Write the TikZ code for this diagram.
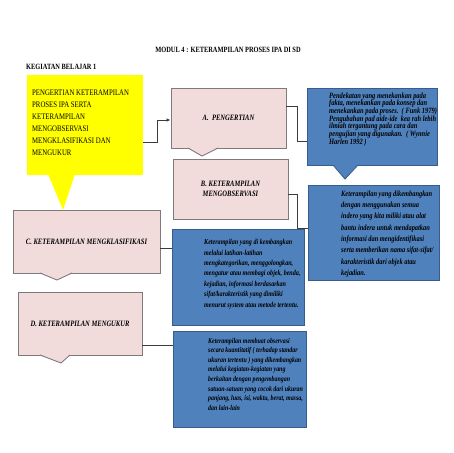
\documentclass[tikz,border=0pt]{standalone}
\usepackage{fontspec}
\setmainfont{Liberation Serif}[FakeStretch=0.8]
\usetikzlibrary{arrows.meta,calc}
\definecolor{pinkfill}{RGB}{242,220,219}
\definecolor{pinkline}{RGB}{127,120,124}
\definecolor{bluefill}{RGB}{79,129,189}
\definecolor{blueline}{RGB}{56,93,138}
\definecolor{connline}{RGB}{60,60,60}
\definecolor{yellowfill}{RGB}{255,255,0}
\begin{document}
\begin{tikzpicture}[x=1pt,y=-1pt,
  pinkbox/.style={draw=pinkline, fill=pinkfill, line width=0.9pt, inner sep=0pt,
    font=\fontsize{8.2}{9.3}\selectfont\bfseries\itshape, align=center},
  bluebox/.style={draw=blueline, fill=bluefill, line width=0.9pt, inner sep=0pt},
  bluetext/.style={anchor=north west, inner sep=0pt, align=left, text=black},
  conn/.style={draw=connline, line width=0.8pt},
]
\useasboundingbox (0,0) rectangle (453,453);

% title texts
\node[font=\fontsize{8}{9}\selectfont\bfseries] (title) at (228,50) {MODUL 4 : KETERAMPILAN PROSES IPA DI SD};
\node[font=\fontsize{8}{9}\selectfont\bfseries, anchor=west, inner sep=0pt] (keg) at (26,67) {KEGIATAN BELAJAR 1};

% yellow callout
\node[fill=yellowfill, minimum width=116pt, minimum height=100pt, inner sep=0pt] (Y) at (85,125) {};
\fill[yellowfill] (48,174) -- (63,210) -- (75,174) -- cycle;
\node[bluetext, font=\fontsize{8.5}{12}\selectfont] (Ytext) at (32,90)
  {PENGERTIAN KETERAMPILAN\\PROSES IPA SERTA\\KETERAMPILAN\\MENGOBSERVASI\\MENGKLASIFIKASI DAN\\MENGUKUR};

% pink boxes
\node[pinkbox, minimum width=115pt, minimum height=60pt] (A) at (228.5,118) {A.\ \ PENGERTIAN};
\node[pinkbox, minimum width=115pt, minimum height=60pt] (B) at (230.5,189) {B. KETERAMPILAN\\MENGOBSERVASI};
\fill[pinkfill] (188,147.4) -- (202,156) -- (218,147.4) -- cycle;
\draw[draw=pinkline, line width=0.9pt] (188,148) -- (202,156) -- (218,148);

\node[pinkbox, minimum width=147pt, minimum height=63pt] (C) at (86.5,241.5) {C. KETERAMPILAN MENGKLASIFIKASI};
\fill[pinkfill] (40,272.4) -- (57,280) -- (72,272.4) -- cycle;
\draw[draw=pinkline, line width=0.9pt] (40,273) -- (57,280) -- (72,273);

\node[pinkbox, minimum width=124pt, minimum height=63pt] (D) at (80,323.5) {D. KETERAMPILAN MENGUKUR};
\fill[pinkfill] (40,354.4) -- (61,363) -- (70,354.4) -- cycle;
\draw[draw=pinkline, line width=0.9pt] (40,355) -- (61,363) -- (70,355);

% blue boxes
\node[bluebox, minimum width=130pt, minimum height=77pt] (B1) at (372,126.5) {};
\fill[bluefill] (333,164.4) -- (345,179) -- (358,164.4) -- cycle;
\draw[draw=blueline, line width=0.9pt] (333,165) -- (345,179) -- (358,165);
\node[bluetext, font=\fontsize{8.1}{7.7}\selectfont\bfseries\itshape] (B1text) at (329,92.3)
  {Pendekatan yang menekankan pada\\
   fakta, menekankan pada konsep dan\\
   menekankan pada proses.\ \ ( Funk 1979)\\
   Pengubahan pad aide-ide\ \ kea rah lebih\\
   ilmiah tergantung pada cara dan\\
   pengujian yang digunakan.\ \ ( Wynnie\\
   Harlen 1992 )};

\node[bluebox, minimum width=131pt, minimum height=95pt] (B2) at (373.5,232.5) {};
\node[bluetext, font=\fontsize{8.0}{11.3}\selectfont\bfseries\itshape] (B2text) at (341,190.5)
  {Keterampilan yang dikembangkan\\
   dengan menggunakan semua\\
   indero yang kita miliki atau alat\\
   bantu indera untuk mendapatkan\\
   informasi dan mengidentifikasi\\
   serta memberikan nama sifat-sifat/\\
   karakteristik dari objek atau\\
   kejadian.};

\node[bluebox, minimum width=132pt, minimum height=96pt] (CB) at (238,277) {};
\node[bluetext, font=\fontsize{7.6}{10.4}\selectfont\bfseries\itshape] (CBtext) at (204,239.2)
  {Keterampilan yang di kembangkan\\
   melalui latihan-latihan\\
   mengkategorikan, menggolongkan,\\
   mengatur atau membagi objek, benda,\\
   kejadian, informasi berdasarkan\\
   sifat/karakteristik yang dimiliki\\
   menurut system atau metode tertentu.};

\node[bluebox, minimum width=133pt, minimum height=96pt] (DB) at (239.5,379) {};
\node[bluetext, font=\fontsize{7.4}{9.6}\selectfont\bfseries\itshape] (DBtext) at (208,337.8)
  {Keterampilan membuat observasi\\
   secara kuantitatif ( terhadap standar\\
   ukuran tertentu ) yang dikembangkan\\
   melalui kegiatan-kegiatan yang\\
   berkaitan dengan pengembangan\\
   satuan-satuan yang cocok dari ukuran\\
   panjang, luas, isi, waktu, berat, massa,\\
   dan lain-lain};

% connectors
\draw[conn,-{Latex[length=4pt,width=3.5pt]}] ([yshift=-17pt]Y.east) -- ++(14pt,0pt) |- ([yshift=-2pt]A.west);
\draw[conn] ([yshift=12pt]A.east) -- ++(11pt,0pt) |- ([yshift=-14.5pt]B1.west);
\draw[conn] ([yshift=-5pt]B.east) -- ++(9pt,0pt) |- ([yshift=4.5pt]B2.west);
\coordinate (c1) at ([yshift=-6.5pt]C.east);
\draw[conn] (c1) -- (c1 -| CB.west);
\coordinate (d1) at ([yshift=-21.5pt]D.east);
\draw[conn] (d1) -- (d1 -| DB.west);
\end{tikzpicture}
\end{document}
